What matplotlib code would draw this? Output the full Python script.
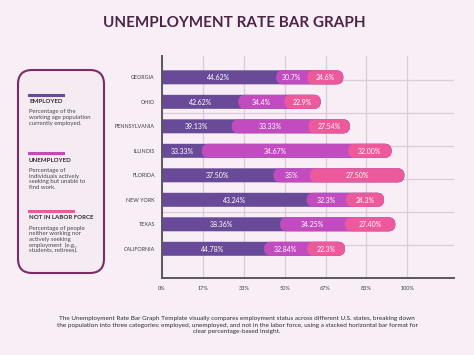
import matplotlib
matplotlib.use("Agg")
import matplotlib.pyplot as plt
import numpy as np
from matplotlib.patches import FancyBboxPatch

plt.rcParams["font.family"] = ["Lato", "DejaVu Sans"]

# ---- data ----
states = ["GEORGIA", "OHIO", "PENNSYLVANIA", "ILLINOIS", "FLORIDA",
          "NEW YORK", "TEXAS", "CALIFORNIA"]
# printed labels
employed_lbl = ["44.62%", "42.62%", "39.13%", "33.33%", "37.50%", "43.24%", "38.36%", "44.78%"]
unemployed_lbl = ["30.7%", "34.4%", "33.33%", "34.67%", "35%", "32.3%", "34.25%", "32.84%"]
nilf_lbl = ["24.6%", "22.9%", "27.54%", "32.00%", "27.50%", "24.3%", "27.40%", "22.3%"]
# drawn segment lengths (% units)
employed_len = [46.5, 31.1, 28.4, 16.2, 45.4, 59.0, 48.1, 41.6]
unemployed_len = [12.7, 18.8, 31.3, 59.7, 14.9, 16.0, 26.5, 17.6]
nilf_len = [14.7, 14.8, 16.9, 17.7, 38.5, 15.5, 20.5, 15.4]

xticks = [0, 100/6, 200/6, 50, 400/6, 500/6, 100]
xticklabels = ["0%", "17%", "33%", "50%", "67%", "83%", "100%"]

c_emp = "#684A98"
c_unemp = "#C24CBF"
c_nilf = "#EC5A9C"
bg = "#F8EEF6"
txt = "#3d3d3d"

fig = plt.figure(figsize=(4.74, 3.55), dpi=100, facecolor=bg)
ax = fig.add_axes([162/474, 1-277.7/355, 292/474, 221.7/355])
ax.set_facecolor(bg)

xmax = 292/2.453
ax.set_xlim(0, xmax)
ax.set_ylim(8.18, -0.87)

# grid
for t in xticks:
    ax.axvline(t, color="#d9cdd7", lw=0.9, zorder=0)
for k in range(1, 7):
    ax.plot([0, 1], [k*0.149, k*0.149], transform=ax.transAxes,
            color="#d9cdd7", lw=0.9, zorder=0)

h = 14/24.49
aspect = 2.453/24.49
r = 7/2.453

e = np.array(employed_len)
u = np.array(unemployed_len)
n = np.array(nilf_len)
ends = e + u + n
for i in range(len(states)):
    starts = [-5, e[i], e[i]+u[i]]
    cols = [c_emp, c_unemp, c_nilf]
    for j in range(3):
        p = FancyBboxPatch((starts[j], i-h/2), ends[i]-starts[j], h,
                           boxstyle="round,pad=0,rounding_size=%f" % r,
                           mutation_aspect=aspect, fc=cols[j], ec="none",
                           zorder=2+j)
        ax.add_patch(p)
    mids = [e[i]/2, e[i]+u[i]/2, e[i]+u[i]+n[i]/2]
    for j, lab in enumerate([employed_lbl[i], unemployed_lbl[i], nilf_lbl[i]]):
        ax.text(mids[j], i+0.02, lab, color="white", fontsize=5.0,
                ha="center", va="center", zorder=6)

ax.set_yticks(range(len(states)))
ax.set_yticklabels(states, fontsize=3.9, color=txt)
ax.set_xticks(xticks)
ax.set_xticklabels(xticklabels, fontsize=4.0, color=txt)
ax.tick_params(length=0)
ax.tick_params(axis="y", pad=5.2)
ax.tick_params(axis="x", pad=6)
for s in ["top", "right"]:
    ax.spines[s].set_visible(False)
for s in ["left", "bottom"]:
    ax.spines[s].set_color("#5b5560")
    ax.spines[s].set_linewidth(1.4)
    ax.spines[s].set_zorder(7)

# title
fig.text(234/474, 1-23/355, "UNEMPLOYMENT RATE BAR GRAPH", ha="center", va="center",
         fontsize=11, fontweight="bold", color="#4E2446")

# legend panel
panel = FancyBboxPatch((18/474, 1-273/355), 86/474, 203/355,
                       boxstyle="round,pad=0,rounding_size=0.03",
                       mutation_aspect=474/355, transform=fig.transFigure,
                       fc="#F5EBF3", ec="#7B2C62", lw=1.5)
fig.patches.append(panel)

legend_items = [
    ("EMPLOYED", c_emp, 62.7, 94.5,
     ["Percentage of the", "working age population", "currently employed."]),
    ("UNEMPLOYED", c_unemp, 62.7, 153.3,
     ["Percentage of", "individuals actively", "seeking but unable to", "find work."]),
    ("NOT IN LABOR FORCE", c_nilf, 72.7, 210.7,
     ["Percentage of people", "neither working nor", "actively seeking",
      "employment  (e.g.,", "students, retirees)."]),
]
for name, col, x2, y, desc in legend_items:
    fig.lines.append(plt.Line2D([29/474, x2/474], [1-y/355, 1-y/355],
                                transform=fig.transFigure, color=col, lw=2.2))
    fig.text(29/474, 1-(y+7)/355, name, fontsize=4.4, fontweight="bold",
             color="#2f2a33", va="center")
    for k, line in enumerate(desc):
        fig.text(29/474, 1-(y+17.5+5.6*k)/355, line, fontsize=4.3,
                 color="#4a454d", va="center")

caption = ("The Unemployment Rate Bar Graph Template visually compares employment status across different U.S. states, breaking down\n"
           "the population into three categories: employed, unemployed, and not in the labor force, using a stacked horizontal bar format for\n"
           "clear percentage-based insight.")
fig.text(237/474, 1-325/355, caption, ha="center", va="center", fontsize=4.6,
         color="#2b2b2b", linespacing=1.45)

fig.savefig("out.png", dpi=100, facecolor=bg)
